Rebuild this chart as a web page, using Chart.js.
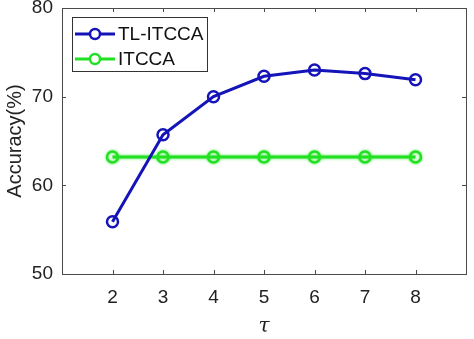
<!DOCTYPE html>
<html>
<head>
<meta charset="utf-8">
<script src="https://cdn.jsdelivr.net/npm/chart.js@4.4.1/dist/chart.umd.min.js"></script>
<style>
  html, body { margin: 0; padding: 0; background: #fff; }
  #wrap { width: 474px; height: 339px; }
</style>
</head>
<body>
<div id="wrap"><canvas id="chart-canvas" width="474" height="339"></canvas></div>
<script>
// tau values and accuracy per method
const taus = [2, 3, 4, 5, 6, 7, 8];
const tlItcca = [55.9, 65.7, 70.0, 72.3, 73.0, 72.6, 71.9];
const itcca = [63.2, 63.2, 63.2, 63.2, 63.2, 63.2, 63.2];
const xTicks = [2, 3, 4, 5, 6, 7, 8];
const yTicks = [50, 60, 70, 80];

const FONT = 'Liberation Sans, Arial, Helvetica, sans-serif';
const AXIS = '#4a4a4a';
const BLUE = '#1414b8';
const GREEN = '#22e022';

const toPoints = ys => taus.map((t, i) => ({ x: t, y: ys[i] }));

// box around the plot with inward ticks on all four sides
const boxPlugin = {
  id: 'box',
  afterDraw(chart) {
    const { ctx, chartArea: a, scales } = chart;
    ctx.save();
    ctx.strokeStyle = AXIS;
    ctx.lineWidth = 1;
    ctx.strokeRect(a.left + 0.5, a.top + 0.5, a.right - a.left, a.bottom - a.top);
    ctx.beginPath();
    xTicks.forEach(v => {
      const px = Math.round(scales.x.getPixelForValue(v)) + 0.5;
      ctx.moveTo(px, a.bottom); ctx.lineTo(px, a.bottom - 4);
      ctx.moveTo(px, a.top); ctx.lineTo(px, a.top + 4);
    });
    yTicks.forEach(v => {
      const py = Math.round(scales.y.getPixelForValue(v)) + 0.5;
      ctx.moveTo(a.left, py); ctx.lineTo(a.left + 4, py);
      ctx.moveTo(a.right, py); ctx.lineTo(a.right - 4, py);
    });
    ctx.stroke();
    ctx.restore();
  },
};

// soft glow on the ITCCA line
const glowPlugin = {
  id: 'glow',
  beforeDatasetDraw(chart, args) {
    if (args.index !== 1) return;
    chart.ctx.save();
    chart.ctx.shadowColor = 'rgba(40,230,40,0.8)';
    chart.ctx.shadowBlur = 3;
  },
  afterDatasetDraw(chart, args) {
    if (args.index !== 1) return;
    chart.ctx.restore();
  },
};

// legend drawn inside the top-left corner of the plot
const insideLegend = {
  id: 'insideLegend',
  afterDraw(chart) {
    const { ctx, chartArea: a } = chart;
    const x0 = a.left + 10, y0 = a.top + 9, w = 135, h = 54;
    ctx.save();
    ctx.fillStyle = '#fff';
    ctx.fillRect(x0, y0, w, h);
    ctx.strokeStyle = '#333';
    ctx.lineWidth = 1;
    ctx.strokeRect(x0 + 0.5, y0 + 0.5, w, h);
    chart.data.datasets.forEach((ds, i) => {
      const cy = y0 + 17 + i * 25;
      ctx.strokeStyle = ds.borderColor;
      ctx.lineWidth = 3;
      ctx.beginPath();
      ctx.moveTo(x0 + 3, cy); ctx.lineTo(x0 + 43, cy);
      ctx.stroke();
      ctx.lineWidth = 2.5;
      ctx.beginPath();
      ctx.arc(x0 + 23, cy, 5, 0, Math.PI * 2);
      ctx.fillStyle = '#fff';
      ctx.fill();
      ctx.stroke();
      ctx.fillStyle = '#111';
      ctx.font = '19px ' + FONT;
      ctx.textBaseline = 'middle';
      ctx.fillText(ds.label, x0 + 46, cy + 1);
    });
    ctx.restore();
  },
};

new Chart(document.getElementById('chart-canvas'), {
  type: 'line',
  data: {
    datasets: [
      {
        label: 'TL-ITCCA',
        data: toPoints(tlItcca),
        borderColor: BLUE,
        backgroundColor: '#fff',
        borderWidth: 3,
        pointRadius: 5.5,
        pointBorderWidth: 2.5,
        pointBackgroundColor: 'rgba(255,255,255,0)',
        tension: 0,
        order: 1,
      },
      {
        label: 'ITCCA',
        data: toPoints(itcca),
        borderColor: GREEN,
        backgroundColor: '#fff',
        borderWidth: 3,
        pointRadius: 5.5,
        pointBorderWidth: 2.5,
        pointBackgroundColor: 'rgba(255,255,255,0)',
        tension: 0,
        order: 2,
      },
    ],
  },
  options: {
    responsive: false,
    animation: false,
    layout: { padding: { top: 6, right: 1, left: 0, bottom: 0 } },
    plugins: { legend: { display: false }, tooltip: { enabled: false } },
    scales: {
      x: {
        type: 'linear',
        min: 1,
        max: 9,
        afterBuildTicks(scale) { scale.ticks = xTicks.map(v => ({ value: v })); },
        afterFit(scale) { scale.height = 65; scale.paddingLeft = 0; scale.paddingRight = 0; },
        grid: { display: false, drawTicks: false },
        border: { display: false },
        ticks: { color: '#222', padding: 12, font: { size: 19, family: FONT } },
        title: {
          display: true,
          text: 'τ',
          color: '#222',
          padding: { top: 6, bottom: 0 },
          font: { size: 20, family: 'DejaVu Serif, serif', style: 'italic' },
        },
      },
      y: {
        min: 50,
        max: 80,
        afterBuildTicks(scale) { scale.ticks = yTicks.map(v => ({ value: v })); },
        afterFit(scale) { scale.width = 62; scale.paddingTop = 0; scale.paddingBottom = 0; },
        grid: { display: false, drawTicks: false },
        border: { display: false },
        ticks: { color: '#222', padding: 9, font: { size: 19, family: FONT } },
        title: {
          display: true,
          text: 'Accuracy(%)',
          color: '#222',
          padding: { top: 3, bottom: 4 },
          font: { size: 20, family: FONT },
        },
      },
    },
  },
  plugins: [boxPlugin, glowPlugin, insideLegend],
});
</script>
</body>
</html>
